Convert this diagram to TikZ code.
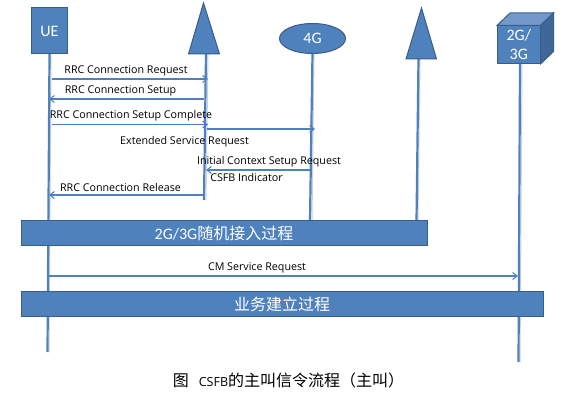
\documentclass[tikz,border=0pt]{standalone}
\usepackage{fontspec}
\setmainfont{Open Sans}
\newfontfamily\boxfont{Carlito}
\newfontfamily\cjk{Noto Sans CJK SC}
\usetikzlibrary{arrows.meta,shapes.geometric}
\definecolor{fillblue}{HTML}{4F81BD}
\definecolor{edgeblue}{HTML}{385D8A}
\definecolor{sideblue}{HTML}{3F6797}
\definecolor{topblue}{HTML}{7299CA}
\definecolor{shadowgrey}{HTML}{C9D3DF}
\tikzset{
  x=1pt,y=-1pt,
  shapestyle/.style={draw=edgeblue,fill=fillblue,line width=1pt,line join=miter},
  lifeline/.style={draw=fillblue,line width=2.2pt},
  msg/.style={draw=fillblue,line width=1.6pt,-{Straight Barb[length=4.5pt,width=7pt,line width=1.1pt]}},
  msgtext/.style={font=\fontsize{10.7}{12}\selectfont,text=black,inner sep=0pt,anchor=center},
  boxtext/.style={font=\boxfont\fontsize{16}{18}\selectfont,text=white,align=center},
  barnode/.style={shapestyle,minimum height=25pt,inner sep=0pt,font=\cjk\fontsize{16}{18}\selectfont,text=white},
}
\begin{document}
\begin{tikzpicture}
\useasboundingbox[fill=white] (0,0) rectangle (583,401);
% lifeline ends
\coordinate (ueTop) at (49.5,54); \coordinate (ueEnd) at (47.5,352);
\coordinate (enbTop) at (206,54); \coordinate (enbEnd) at (204,200);
\coordinate (mmeTop) at (312.5,53); \coordinate (mmeEnd) at (310,221);
\coordinate (enbbTop) at (418.5,58); \coordinate (enbbEnd) at (416.5,221);
\coordinate (gTop) at (520,64); \coordinate (gEnd) at (518.5,362);
% soft shadows
\draw[shadowgrey,line width=1pt] (51,54) -- (49,352) (208,54) -- (206,200) (314,53) -- (312,221) (420,58) -- (418,221) (522,64) -- (520,362);
\draw[lifeline] (ueTop) -- (ueEnd);
\draw[lifeline] (enbTop) -- (enbEnd);
\draw[lifeline] (mmeTop) -- (mmeEnd);
\draw[lifeline] (enbbTop) -- (enbbEnd);
\draw[lifeline] (gTop) -- (gEnd);
% heads
\node[shapestyle,minimum width=36pt,minimum height=46pt,inner sep=0pt,boxtext] (ue) at (49.5,31) {UE};
\draw[shapestyle] (203.5,3) -- (219.5,54) -- (188.5,54) -- cycle;
\draw[shapestyle] (421.5,8) -- (436.5,59) -- (406,59) -- cycle;
\node[shapestyle,ellipse,minimum width=66pt,minimum height=30pt,inner sep=0pt,boxtext] (mme) at (312.5,38.5) {4G};
\draw[shapestyle,fill=topblue] (497,25.5) -- (510,13) -- (553.5,13) -- (540.5,25.5) -- cycle;
\draw[shapestyle,fill=sideblue] (540.5,25.5) -- (553.5,13) -- (553.5,51.5) -- (540.5,64) -- cycle;
\node[shapestyle,minimum width=43.5pt,minimum height=38.5pt,inner sep=0pt,boxtext,font=\boxfont\fontsize{16}{18.5}\selectfont] (g) at (518.75,44.75) {2G/\\3G};
% messages
\coordinate (m1a) at (52,79); \coordinate (m1b) at (208,79);
\coordinate (m2a) at (204,99); \coordinate (m2b) at (49,99);
\coordinate (m3a) at (52,124.5); \coordinate (m3b) at (208,124.5);
\coordinate (m4a) at (207,129); \coordinate (m4b) at (315,129);
\coordinate (m5a) at (310,170); \coordinate (m5b) at (206,170);
\coordinate (m6a) at (204,195); \coordinate (m6b) at (49,195);
\coordinate (m7a) at (49,276); \coordinate (m7b) at (518,276);
\draw[msg] (m1a) -- (m1b);
\draw[msg] (m2a) -- (m2b);
\draw[msg] (m3a) -- (m3b);
\draw[msg] (m4a) -- (m4b);
\draw[msg] (m5a) -- (m5b);
\draw[msg] (m6a) -- (m6b);
\draw[msg] (m7a) -- (m7b);
% labels
\node[msgtext] (t1) at (126,71) {RRC Connection Request};
\node[msgtext] (t2) at (120.5,91) {RRC Connection Setup};
\node[msgtext] (t3) at (131,116) {RRC Connection Setup Complete};
\node[msgtext] (t4) at (184.5,142) {Extended Service Request};
\node[msgtext] (t5) at (269,162) {Initial Context Setup Request};
\node[msgtext] (t6) at (246.5,177) {CSFB Indicator};
\node[msgtext] (t7) at (120.5,187) {RRC Connection Release};
\node[msgtext] (t8) at (257,268) {CM Service Request};
% bars
\node[barnode,minimum width=406pt] (bar1) at (224,233) {\boxfont\fontsize{16}{18}\selectfont 2G/3G\cjk 随机接入过程};
\node[barnode,minimum width=522pt] (bar2) at (282,304) {业务建立过程};
% caption
\node[font=\fontsize{16}{18}\selectfont,inner sep=0pt] (cap) at (288.5,380) {\cjk 图\hspace{10pt}\fontsize{12.5}{18}\selectfont\rmfamily CSFB\fontsize{16}{18}\selectfont\cjk 的主叫信令流程（主叫）};
\end{tikzpicture}
\end{document}
